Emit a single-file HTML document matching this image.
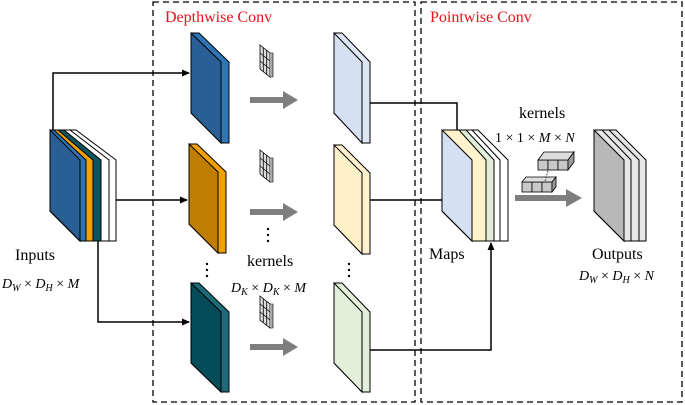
<!DOCTYPE html>
<html><head><meta charset="utf-8"><style>
body{margin:0;background:#fff}
svg{display:block}
text{font-family:"Liberation Serif",serif}
</style></head><body>
<svg width="685" height="405" viewBox="0 0 685 405" xmlns="http://www.w3.org/2000/svg">
<defs>
<marker id="ah" markerWidth="8" markerHeight="8" refX="7" refY="4" orient="auto" markerUnits="userSpaceOnUse"><path d="M0,0.5 L8,4 L0,7.5 Z" fill="#000"/></marker>
<g id="grid">
 <path d="M0,0 L10,8 L10,32 L0,24 Z" fill="#ddd" stroke="#000" stroke-width="0.8"/>
 <path d="M3.3,2.7 V26.7 M6.7,5.3 V29.3 M0,8 L10,16 M0,16 L10,24" stroke="#000" stroke-width="0.8" fill="none"/>
 <path d="M10,8 L13,8 L13,32 L10,32" fill="#aaa" stroke="#000" stroke-width="0.6"/>
</g>
</defs>
<rect x="153" y="2" width="262" height="400" fill="none" stroke="#000" stroke-width="1.3" stroke-dasharray="6,4"/>
<rect x="421" y="2" width="261" height="400" fill="none" stroke="#000" stroke-width="1.3" stroke-dasharray="6,4"/>
<text x="165" y="22" font-size="16" fill="#e8141c">Depthwise Conv</text>
<text x="430" y="22" font-size="16" fill="#e8141c">Pointwise Conv</text>

<!-- connectors -->
<g stroke="#000" stroke-width="1.5" fill="none">
<path d="M53,130 V73 H189" marker-end="url(#ah)"/>
<path d="M95,200 H187" marker-end="url(#ah)"/>
<path d="M98,241 V322 H189" marker-end="url(#ah)"/>
<path d="M370,103 H457 V139" marker-end="url(#ah)"/>
<path d="M370,200 H476" marker-end="url(#ah)"/>
<path d="M370,350 H491 V243" marker-end="url(#ah)"/>
</g>

<!-- inputs stack -->
<g stroke="#000" stroke-width="1">
<path d="M50,130 L76,130 L116,160 L116,241 L80,241 L50,211 Z" fill="#fff"/>
<path d="M50,130 L70,130 L109,160 L109,241 L80,241 L50,211Z" fill="#fff"/>
<path d="M50,130 L64,130 L101,160 L101,241 L80,241 L50,211Z" fill="#0e5560"/>
<path d="M50,130 L58,130 L93,160 L93,241 L80,241 L50,211Z" fill="#f0a000"/>
<path d="M50,130 L54,130 L86,160 L86,241 L80,241 L50,211Z" fill="#2e75b6"/>
<path d="M50,130 L80,160 L80,241 L50,211 Z" fill="#2a5f96"/>
</g>

<!-- slab helper: front + strip -->
<g stroke="#000" stroke-width="1">
<path d="M191,33 L199,33 L229,62 L229,143 L221,143 L191,113Z" fill="#2e75b6"/>
<path d="M191,33 L221,62 L221,143 L191,113Z" fill="#2a5f96"/>
<path d="M189,144 L197,144 L226,172 L226,253 L218,253 L189,224Z" fill="#f0a000"/>
<path d="M189,144 L218,172 L218,253 L189,224Z" fill="#c07d00"/>
<path d="M191,283 L199,283 L229,312 L229,392 L221,392 L191,363Z" fill="#1d6b78"/>
<path d="M191,283 L221,312 L221,392 L191,363Z" fill="#044c58"/>

<path d="M334,33 L342,33 L370,62 L370,143 L362,143 L334,113Z" fill="#dce6f4"/>
<path d="M334,33 L362,62 L362,143 L334,113Z" fill="#d5e0f2"/>
<path d="M334,145 L342,145 L370,173 L370,254 L362,254 L334,225Z" fill="#fff2cc"/>
<path d="M334,145 L362,173 L362,254 L334,225Z" fill="#fff0c8"/>
<path d="M334,283 L342,283 L370,312 L370,392 L362,392 L334,363Z" fill="#e4efdb"/>
<path d="M334,283 L362,312 L362,392 L334,363Z" fill="#e2eed8"/>
</g>

<!-- maps stack -->
<g stroke="#000" stroke-width="1">
<path d="M442,130 L478,130 L508,160 L508,241 L472,241 L442,211Z" fill="#fff"/>
<path d="M442,130 L472,130 L500,160 L500,241 L472,241 L442,211Z" fill="#fff"/>
<path d="M442,130 L466,130 L494,160 L494,241 L472,241 L442,211Z" fill="#e2eed8"/>
<path d="M442,130 L459,130 L486,160 L486,241 L472,241 L442,211Z" fill="#fff2cc"/>
<path d="M442,130 L472,160 L472,241 L442,211Z" fill="#d5e0f2"/>
</g>
<!-- outputs stack -->
<g stroke="#000" stroke-width="1">
<path d="M594,130 L616,130 L646,160 L646,241 L624,241 L594,211Z" fill="#e6e6e6"/>
<path d="M594,130 L609,130 L639,160 L639,241 L624,241 L594,211Z" fill="#e6e6e6"/>
<path d="M594,130 L602,130 L631,160 L631,241 L624,241 L594,211Z" fill="#e6e6e6"/>
<path d="M594,130 L624,160 L624,241 L594,211Z" fill="#b8b8b8"/>
</g>

<!-- gray arrows -->
<g fill="#7f7f7f">
<path d="M250,97 H283 V91 L298,100 L283,109 V103 H250Z"/>
<path d="M250,209 H283 V203 L298,212 L283,221 V215 H250Z"/>
<path d="M250,344 H283 V338 L298,347 L283,356 V350 H250Z"/>
<path d="M515,195 H566 V189 L582,198 L566,207 V201 H515Z"/>
</g>

<!-- kernel grids -->
<use href="#grid" x="260" y="45"/>
<use href="#grid" x="260" y="150"/>
<use href="#grid" x="260" y="296"/>

<!-- pointwise small cubes -->
<g stroke="#000" stroke-width="0.8" fill="#c8c8c8">
<rect x="538" y="160" width="10" height="10"/><rect x="548" y="160" width="10" height="10"/><rect x="558" y="160" width="10" height="10"/>
<path d="M538,160 L544,152 L574,152 L568,160Z" fill="#ddd"/>
<path d="M568,160 L574,152 L574,162 L568,170Z" fill="#999"/>
<rect x="522" y="182" width="10" height="10"/><rect x="532" y="182" width="10" height="10"/><rect x="542" y="182" width="10" height="10"/>
<path d="M522,182 L526,177 L556,177 L552,182Z" fill="#ddd"/>
<path d="M552,182 L556,177 L556,187 L552,192Z" fill="#999"/>
<path d="M548,171 L545,181" stroke-dasharray="1.5,1.5" fill="none"/>
</g>

<!-- dots -->
<g fill="#000">
<circle cx="207" cy="264" r="1.2"/><circle cx="207" cy="270" r="1.2"/><circle cx="207" cy="276" r="1.2"/>
<circle cx="268" cy="229" r="1.2"/><circle cx="268" cy="235" r="1.2"/><circle cx="268" cy="241" r="1.2"/>
<circle cx="349" cy="264" r="1.2"/><circle cx="349" cy="270" r="1.2"/><circle cx="349" cy="276" r="1.2"/>
</g>

<!-- labels -->
<text x="15" y="260" font-size="16">Inputs</text>
<text x="2" y="288" font-size="14" font-style="italic">D<tspan font-size="10" dy="3">W</tspan><tspan dy="-3" font-style="normal"> × </tspan>D<tspan font-size="10" dy="3">H</tspan><tspan dy="-3" font-style="normal"> × </tspan>M</text>
<text x="247" y="266" font-size="16">kernels</text>
<text x="231" y="292" font-size="14" font-style="italic">D<tspan font-size="10" dy="3">K</tspan><tspan dy="-3" font-style="normal"> × </tspan>D<tspan font-size="10" dy="3">K</tspan><tspan dy="-3" font-style="normal"> × </tspan>M</text>
<text x="519" y="118" font-size="16">kernels</text>
<text x="495" y="142" font-size="14"><tspan>1 × 1 × </tspan><tspan font-style="italic">M</tspan> × <tspan font-style="italic">N</tspan></text>
<text x="429" y="259" font-size="16">Maps</text>
<text x="592" y="259" font-size="16">Outputs</text>
<text x="579" y="280" font-size="14" font-style="italic">D<tspan font-size="10" dy="3">W</tspan><tspan dy="-3" font-style="normal"> × </tspan>D<tspan font-size="10" dy="3">H</tspan><tspan dy="-3" font-style="normal"> × </tspan>N</text>
</svg>
</body></html>
